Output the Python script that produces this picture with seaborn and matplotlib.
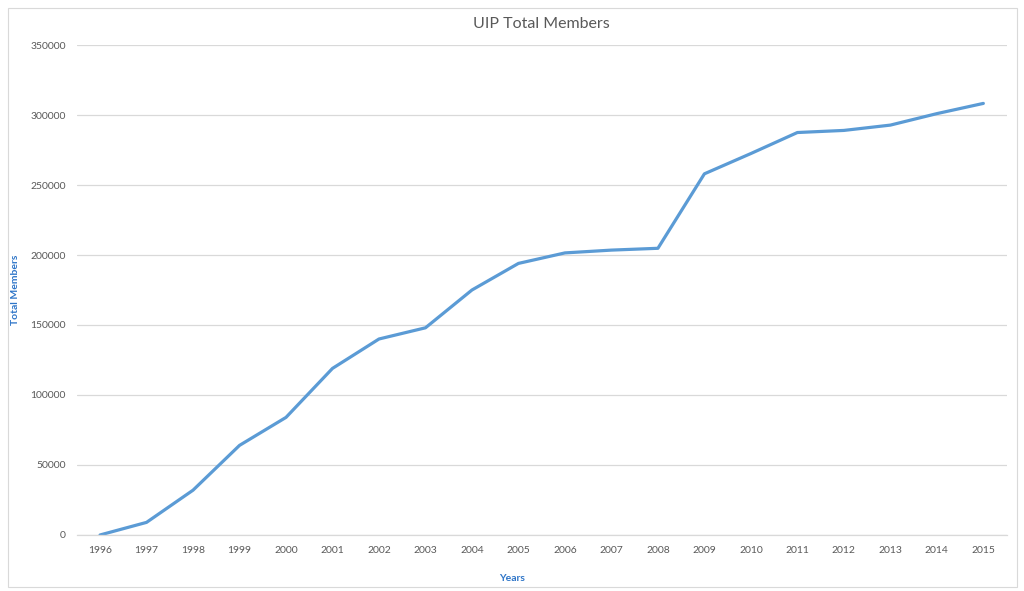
import numpy as np
import pandas as pd
import matplotlib
matplotlib.use("Agg")
import matplotlib.pyplot as plt
import seaborn as sns

# values
years = [str(y) for y in range(1996, 2016)]
members = [0, 9000, 32000, 64000, 84000, 119000, 140000, 148000, 175000, 194000,
           201500, 203500, 204800, 258000, 272500, 287500, 289000, 292800, 301000, 308300]
y_ticks = [0, 50000, 100000, 150000, 200000, 250000, 300000, 350000]

df = pd.DataFrame({"Years": years, "Total Members": members})

sns.set_theme(style="white")
plt.rcParams['font.family'] = ['Lato', 'DejaVu Sans']

fig = plt.figure(figsize=(10.24, 5.91), dpi=100)
ax = fig.add_axes([0.075, 0.0948, 0.908, 0.829])

sns.lineplot(ax=ax, data=df, x="Years", y="Total Members", color="#5B9BD5",
             linewidth=2.3, sort=False)

ax.set_xlim(-0.5, len(years) - 0.5)
ax.set_ylim(0, 350000)
ax.set_yticks(y_ticks)
ax.set_yticklabels([str(v) for v in y_ticks])
ax.grid(axis="y", color="#D9D9D9", linewidth=0.9)
ax.set_axisbelow(True)
for s in ["top", "right", "left"]:
    ax.spines[s].set_visible(False)
ax.spines["bottom"].set_color("#D9D9D9")
ax.spines["bottom"].set_linewidth(0.9)
ax.tick_params(axis="both", colors="#595959", labelsize=7.5, length=0, pad=8)

ax.set_title("UIP Total Members", fontsize=11.5, color="#595959", pad=12)
ax.set_xlabel("Years", fontsize=7.5, color="#2E75C8", fontweight="bold")
ax.set_ylabel("Total Members", fontsize=7.5, color="#2E75C8", fontweight="bold")
ax.xaxis.set_label_coords(0.468, -0.079)
ax.yaxis.set_label_coords(-0.061, 0.5)

# chart area border
fig.patches.append(plt.Rectangle((0.008, 0.007), 0.985, 0.98, transform=fig.transFigure,
                                 fill=False, edgecolor="#D9D9D9", linewidth=0.8))

fig.savefig("out.png", dpi=100)
